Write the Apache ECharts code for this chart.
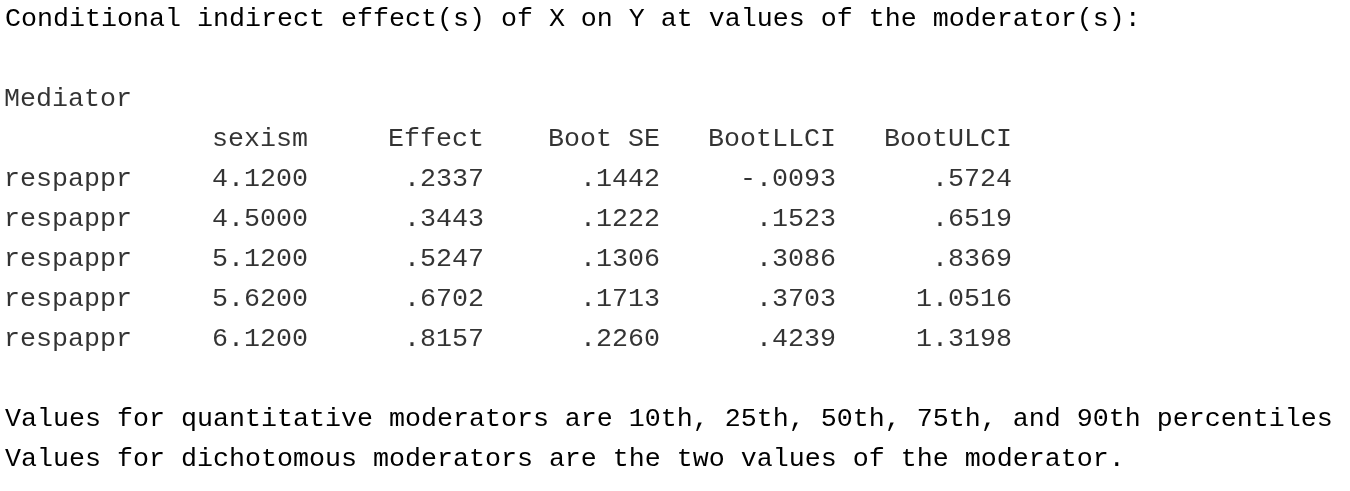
<!DOCTYPE html>
<html>
<head>
<meta charset="utf-8">
<script src="https://cdn.jsdelivr.net/npm/echarts@6/dist/echarts.min.js"></script>
<style>
html,body{margin:0;padding:0;background:#fff;}
#main{width:1350px;height:491px;}
</style>
</head>
<body>
<div id="main"></div>
<script>
// ---- data ----
const titleText = 'Conditional indirect effect(s) of X on Y at values of the moderator(s):';
const sectionLabel = 'Mediator';
const columns = ['', 'sexism', 'Effect', 'Boot SE', 'BootLLCI', 'BootULCI'];
const mediators = ['respappr', 'respappr', 'respappr', 'respappr', 'respappr'];
const sexism = [4.12, 4.50, 5.12, 5.62, 6.12];
const effect = [0.2337, 0.3443, 0.5247, 0.6702, 0.8157];
const bootSE = [0.1442, 0.1222, 0.1306, 0.1713, 0.2260];
const bootLLCI = [-0.0093, 0.1523, 0.3086, 0.3703, 0.4239];
const bootULCI = [0.5724, 0.6519, 0.8369, 1.0516, 1.3198];
const notes = [
  'Values for quantitative moderators are 10th, 25th, 50th, 75th, and 90th percentiles',
  'Values for dichotomous moderators are the two values of the moderator.'
];

// ---- build ----
const FONT = "'Liberation Mono', 'Courier New', monospace";
const FS = 26.6667;
const fmt = v => v.toFixed(4).replace(/^(-?)0\./, '$1.');

const rowNames = ['mediator', 'header'].concat(mediators.map((m, i) => 'r' + i));
const cells = [];
cells.push([0, 0, sectionLabel]);
columns.forEach((c, j) => { if (c) cells.push([j, 1, c]); });
const numCols = [sexism, effect, bootSE, bootLLCI, bootULCI];
mediators.forEach((m, i) => {
  cells.push([0, i + 2, m]);
  numCols.forEach((arr, j) => cells.push([j + 1, i + 2, fmt(arr[i])]));
});

const chart = echarts.init(document.getElementById('main'), null, {renderer: 'canvas'});
chart.setOption({
  backgroundColor: '#ffffff',
  animation: false,
  grid: {left: 132, right: 338, top: 99, bottom: 152},
  xAxis: {
    type: 'category', data: columns.map((c, i) => 'c' + i), boundaryGap: false,
    axisLine: {show: false}, axisTick: {show: false}, axisLabel: {show: false}, splitLine: {show: false}
  },
  yAxis: {
    type: 'category', data: rowNames, inverse: true, boundaryGap: false,
    axisLine: {show: false}, axisTick: {show: false}, axisLabel: {show: false}, splitLine: {show: false}
  },
  series: [{
    type: 'scatter',
    symbolSize: 0,
    data: cells.map(c => ({value: [c[0], c[1]], name: c[2]})),
    label: {
      show: true, position: 'inside', align: 'right', verticalAlign: 'middle',
      formatter: p => p.name, color: '#000', fontFamily: FONT, fontSize: FS
    },
    silent: true
  }],
  graphic: [
    {type: 'text', x: 5, y: 19, style: {text: titleText, font: FS + 'px ' + FONT, fill: '#000', textVerticalAlign: 'middle'}},
    {type: 'text', x: 5, y: 419, style: {text: notes[0], font: FS + 'px ' + FONT, fill: '#000', textVerticalAlign: 'middle'}},
    {type: 'text', x: 5, y: 459, style: {text: notes[1], font: FS + 'px ' + FONT, fill: '#000', textVerticalAlign: 'middle'}}
  ]
});
</script>
</body>
</html>
